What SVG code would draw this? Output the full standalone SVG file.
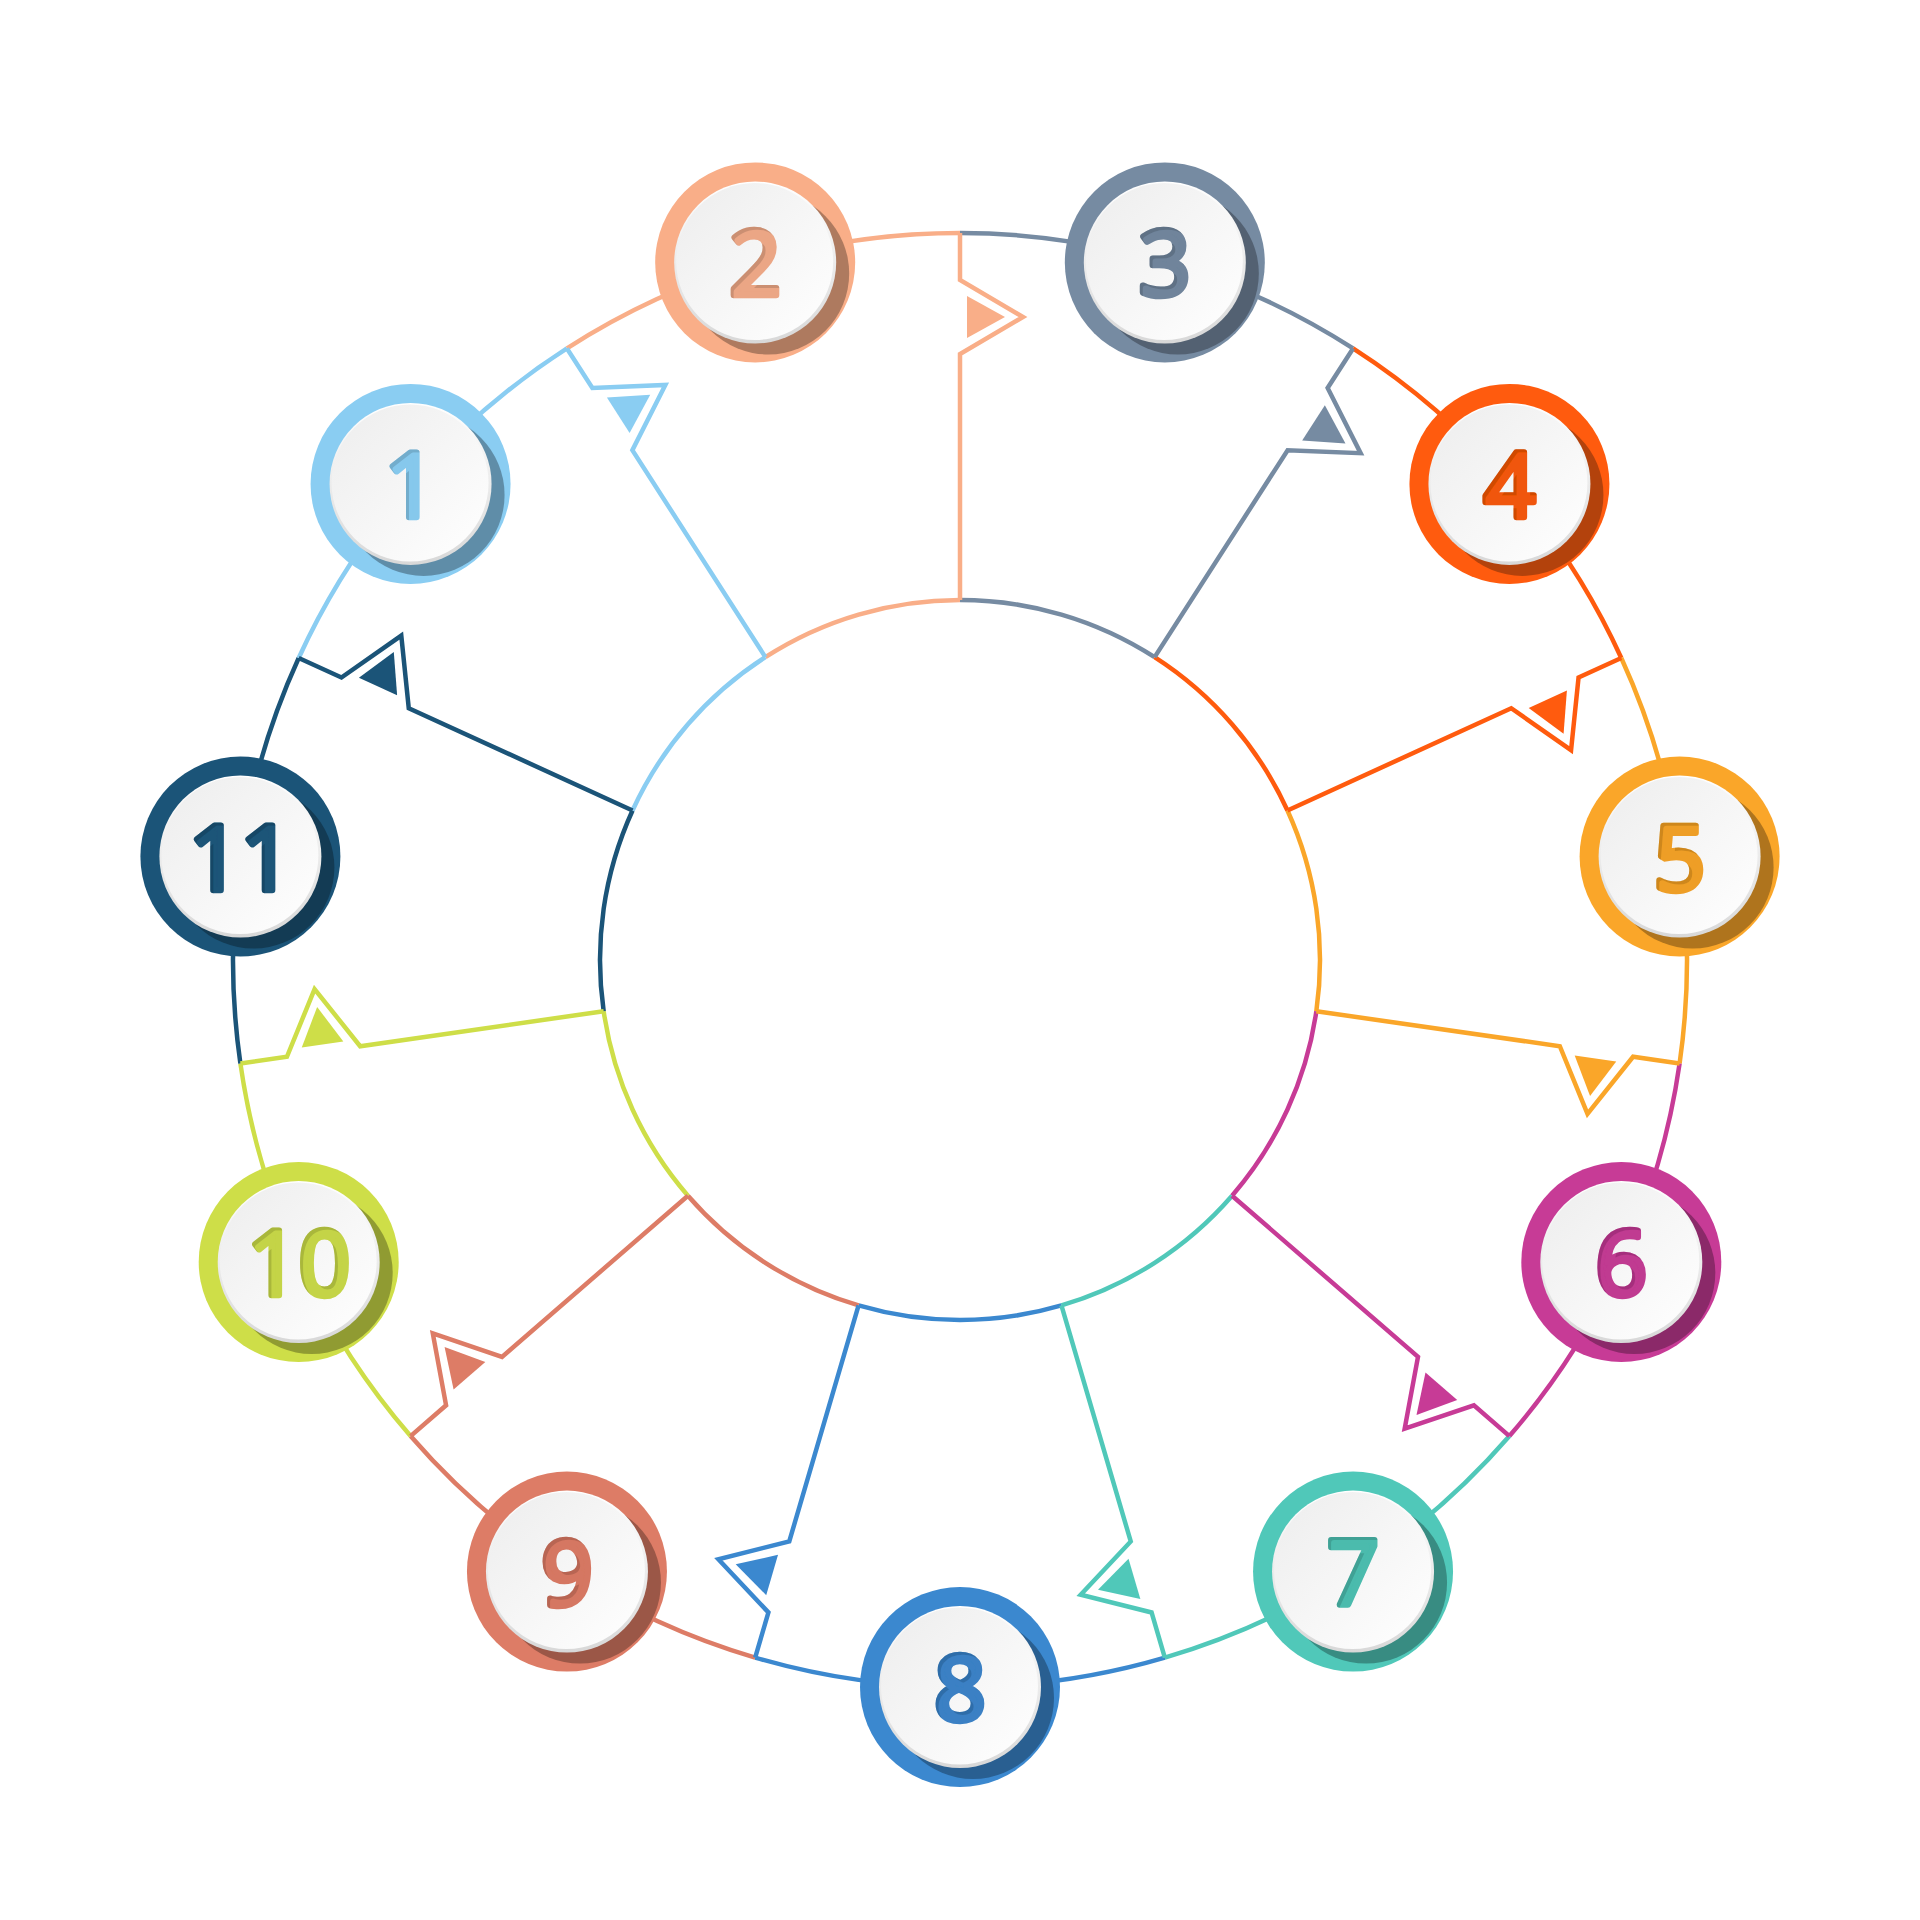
<svg xmlns="http://www.w3.org/2000/svg" xmlns:xlink="http://www.w3.org/1999/xlink" width="1920" height="1920" viewBox="0 0 1920 1920">
<style>
.arc{fill:none;stroke-width:4.5}
.flagline{fill:none;stroke:currentColor;stroke-width:4.5;stroke-linejoin:miter}
.flagtri{fill:currentColor;stroke:none}
.num{font-family:"Open Sans","Liberation Sans",sans-serif;font-weight:400;font-size:90px;text-anchor:middle;filter:url(#inset);fill:currentColor;stroke:currentColor;stroke-width:6.5;stroke-linejoin:round;stroke-linecap:round}
</style>
<defs>
<linearGradient id="rim" x1="0" y1="0" x2="0" y2="1">
<stop offset="0" stop-color="#ffffff"/>
<stop offset="1" stop-color="#d8d8d8"/>
</linearGradient>
<linearGradient id="face" x1="0" y1="0" x2="1" y2="1">
<stop offset="0" stop-color="#ededed"/>
<stop offset="1" stop-color="#ffffff"/>
</linearGradient>
<filter id="inset" x="-20%" y="-20%" width="140%" height="140%">
<feOffset in="SourceAlpha" dx="3" dy="3" result="off"/>
<feComposite in="SourceAlpha" in2="off" operator="out" result="edge"/>
<feFlood flood-color="#000" flood-opacity="0.28"/>
<feComposite in2="edge" operator="in" result="shadow"/>
<feMerge><feMergeNode in="SourceGraphic"/><feMergeNode in="shadow"/></feMerge>
</filter>
<g id="flag">
<path class="flagline" d="M960,600 V354 L1023,317 L960,280 V233"/>
<path class="flagtri" d="M967,338 L1005,317 L967,296 Z"/>
</g>
</defs>
<rect width="1920" height="1920" fill="#ffffff"/>
<g id="connectors">
<path class="arc" stroke="#F9AE88" d="M566.95,348.41 A727,727 0 0 1 960,233 M765.37,657.15 A360,360 0 0 1 960,600"/>
<path class="arc" stroke="#768BA2" d="M960,233 A727,727 0 0 1 1353.05,348.41 M960,600 A360,360 0 0 1 1154.63,657.15"/>
<path class="arc" stroke="#FF5B0E" d="M1353.05,348.41 A727,727 0 0 1 1621.30,657.99 M1154.63,657.15 A360,360 0 0 1 1287.47,810.45"/>
<path class="arc" stroke="#FAA629" d="M1621.30,657.99 A727,727 0 0 1 1679.60,1063.46 M1287.47,810.45 A360,360 0 0 1 1316.34,1011.23"/>
<path class="arc" stroke="#C73B96" d="M1679.60,1063.46 A727,727 0 0 1 1509.43,1436.08 M1316.34,1011.23 A360,360 0 0 1 1232.07,1195.75"/>
<path class="arc" stroke="#50C8B9" d="M1509.43,1436.08 A727,727 0 0 1 1164.82,1657.55 M1232.07,1195.75 A360,360 0 0 1 1061.42,1305.42"/>
<path class="arc" stroke="#3B88CF" d="M1164.82,1657.55 A727,727 0 0 1 755.18,1657.55 M1061.42,1305.42 A360,360 0 0 1 858.58,1305.42"/>
<path class="arc" stroke="#DD7C66" d="M755.18,1657.55 A727,727 0 0 1 410.57,1436.08 M858.58,1305.42 A360,360 0 0 1 687.93,1195.75"/>
<path class="arc" stroke="#CEDE48" d="M410.57,1436.08 A727,727 0 0 1 240.40,1063.46 M687.93,1195.75 A360,360 0 0 1 603.66,1011.23"/>
<path class="arc" stroke="#1B5478" d="M240.40,1063.46 A727,727 0 0 1 298.70,657.99 M603.66,1011.23 A360,360 0 0 1 632.53,810.45"/>
<path class="arc" stroke="#8ACDF2" d="M298.70,657.99 A727,727 0 0 1 566.95,348.41 M632.53,810.45 A360,360 0 0 1 765.37,657.15"/>
<use xlink:href="#flag" href="#flag" style="color:#F9AE88"/>
<use xlink:href="#flag" href="#flag" style="color:#768BA2" transform="rotate(32.7273 960 960)"/>
<use xlink:href="#flag" href="#flag" style="color:#FF5B0E" transform="rotate(65.4545 960 960)"/>
<use xlink:href="#flag" href="#flag" style="color:#FAA629" transform="rotate(98.1818 960 960)"/>
<use xlink:href="#flag" href="#flag" style="color:#C73B96" transform="rotate(130.9091 960 960)"/>
<use xlink:href="#flag" href="#flag" style="color:#50C8B9" transform="rotate(163.6364 960 960)"/>
<use xlink:href="#flag" href="#flag" style="color:#3B88CF" transform="rotate(196.3636 960 960)"/>
<use xlink:href="#flag" href="#flag" style="color:#DD7C66" transform="rotate(229.0909 960 960)"/>
<use xlink:href="#flag" href="#flag" style="color:#CEDE48" transform="rotate(261.8182 960 960)"/>
<use xlink:href="#flag" href="#flag" style="color:#1B5478" transform="rotate(294.5455 960 960)"/>
<use xlink:href="#flag" href="#flag" style="color:#8ACDF2" transform="rotate(327.2727 960 960)"/>
</g>
<g id="node-1" transform="translate(410.57,483.92)">
<circle r="100" fill="#8ACDF2"/><circle cx="13" cy="11" r="81" fill="#5F8DA8"/>
<circle r="81" fill="url(#rim)"/><circle cx="-0.5" cy="-1" r="78.5" fill="url(#face)"/>
<text class="num" y="33" style="color:#86C8EC">1</text>
</g>
<g id="node-2" transform="translate(755.18,262.45)">
<circle r="100" fill="#F9AE88"/><circle cx="13" cy="11" r="81" fill="#AE7A5F"/>
<circle r="81" fill="url(#rim)"/><circle cx="-0.5" cy="-1" r="78.5" fill="url(#face)"/>
<text class="num" y="33" style="color:#EBA685">2</text>
</g>
<g id="node-3" transform="translate(1164.82,262.45)">
<circle r="100" fill="#768BA2"/><circle cx="13" cy="11" r="81" fill="#536172"/>
<circle r="81" fill="url(#rim)"/><circle cx="-0.5" cy="-1" r="78.5" fill="url(#face)"/>
<text class="num" y="33" style="color:#6F849B">3</text>
</g>
<g id="node-4" transform="translate(1509.43,483.92)">
<circle r="100" fill="#FF5B0E"/><circle cx="13" cy="11" r="81" fill="#B3420C"/>
<circle r="81" fill="url(#rim)"/><circle cx="-0.5" cy="-1" r="78.5" fill="url(#face)"/>
<text class="num" y="33" style="color:#F0570F">4</text>
</g>
<g id="node-5" transform="translate(1679.60,856.54)">
<circle r="100" fill="#FAA629"/><circle cx="13" cy="11" r="81" fill="#AF741D"/>
<circle r="81" fill="url(#rim)"/><circle cx="-0.5" cy="-1" r="78.5" fill="url(#face)"/>
<text class="num" y="33" style="color:#EE9E28">5</text>
</g>
<g id="node-6" transform="translate(1621.30,1262.01)">
<circle r="100" fill="#C73B96"/><circle cx="13" cy="11" r="81" fill="#8B2969"/>
<circle r="81" fill="url(#rim)"/><circle cx="-0.5" cy="-1" r="78.5" fill="url(#face)"/>
<text class="num" y="33" style="color:#C03A91">6</text>
</g>
<g id="node-7" transform="translate(1353.05,1571.59)">
<circle r="100" fill="#50C8B9"/><circle cx="13" cy="11" r="81" fill="#388C82"/>
<circle r="81" fill="url(#rim)"/><circle cx="-0.5" cy="-1" r="78.5" fill="url(#face)"/>
<text class="num" y="33" style="color:#4BBBAD">7</text>
</g>
<g id="node-8" transform="translate(960,1687)">
<circle r="100" fill="#3B88CF"/><circle cx="13" cy="11" r="81" fill="#295F91"/>
<circle r="81" fill="url(#rim)"/><circle cx="-0.5" cy="-1" r="78.5" fill="url(#face)"/>
<text class="num" y="33" style="color:#3A80C4">8</text>
</g>
<g id="node-9" transform="translate(566.95,1571.59)">
<circle r="100" fill="#DD7C66"/><circle cx="13" cy="11" r="81" fill="#9B5747"/>
<circle r="81" fill="url(#rim)"/><circle cx="-0.5" cy="-1" r="78.5" fill="url(#face)"/>
<text class="num" y="33" style="color:#D57762">9</text>
</g>
<g id="node-10" transform="translate(298.70,1262.01)">
<circle r="100" fill="#CEDE48"/><circle cx="13" cy="11" r="81" fill="#909B32"/>
<circle r="81" fill="url(#rim)"/><circle cx="-0.5" cy="-1" r="78.5" fill="url(#face)"/>
<text class="num" y="33" style="color:#C4D446">10</text>
</g>
<g id="node-11" transform="translate(240.40,856.54)">
<circle r="100" fill="#1B5478"/><circle cx="13" cy="11" r="81" fill="#133B54"/>
<circle r="81" fill="url(#rim)"/><circle cx="-0.5" cy="-1" r="78.5" fill="url(#face)"/>
<text class="num" y="33" style="color:#1B5478">11</text>
</g>
</svg>
